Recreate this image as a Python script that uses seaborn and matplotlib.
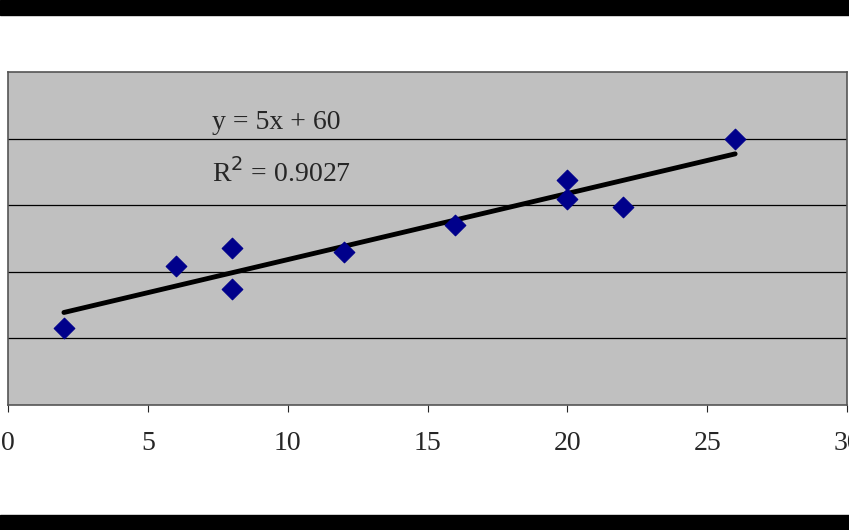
import matplotlib
matplotlib.use("Agg")
import matplotlib.pyplot as plt
import seaborn as sns
import numpy as np
import pandas as pd
from matplotlib.patches import Rectangle

x_vals = [2, 6, 8, 8, 12, 16, 20, 20, 22, 26]
y_vals = [58, 104, 118, 87, 115, 135, 169, 155, 149, 200]
x_ticks = [0, 5, 10, 15, 20, 25, 30]
y_ticks = [0, 50, 100, 150, 200, 250]

df = pd.DataFrame({"x": x_vals, "y": y_vals})
sns.set_style("white")
plt.rcParams['font.family'] = ['Liberation Serif', 'DejaVu Serif']

fig = plt.figure(figsize=(8.49, 5.30), dpi=100)
fig.patches.append(Rectangle((0, 1 - 15/530), 1, 15/530, transform=fig.transFigure, color="black", zorder=10))
fig.patches.append(Rectangle((0, 0), 1, 15/530, transform=fig.transFigure, color="black", zorder=10))
ax = fig.add_axes([8/849, 125/530, 839/849, 333/530])
ax.set_facecolor("#c0c0c0")
ax.set_xlim(0, 30)
ax.set_ylim(0, 250)
ax.set_yticks(y_ticks)
ax.set_yticklabels([])
ax.set_xticks(x_ticks)
ax.set_xticklabels([str(t) for t in x_ticks], fontsize=20)
ax.tick_params(axis="x", length=5, pad=14, direction="out", bottom=True)
ax.tick_params(axis="y", length=0)
for y in y_ticks[1:-1]:
    ax.axhline(y, color="black", lw=0.9, zorder=1)
for s in ax.spines.values():
    s.set_color("#555555")
    s.set_linewidth(1.2)

m, b = np.polyfit(x_vals, y_vals, 1)
xl = np.array([min(x_vals), max(x_vals)])
ax.plot(xl, m * xl + b, color="black", lw=3.5, zorder=2)
sns.scatterplot(data=df, x="x", y="y", marker="D", color="#00008b", s=110, edgecolor="#00008b", ax=ax, zorder=3)
ax.set_xlabel("")
ax.set_ylabel("")
ax.text(7.3, 212, "y = 5x + 60", fontsize=20, va="center")
ax.text(7.3, 174, "R$^2$ = 0.9027", fontsize=20, va="center")
fig.savefig("out.png", dpi=100)
